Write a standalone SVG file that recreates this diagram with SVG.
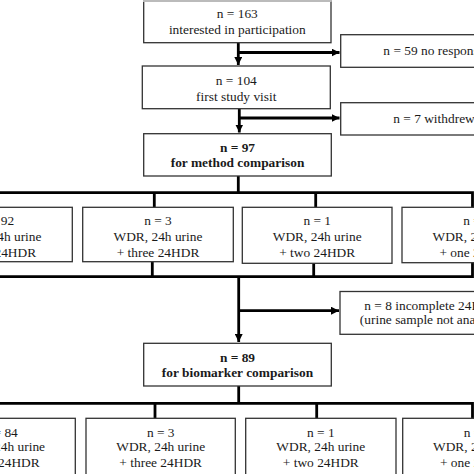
<svg xmlns="http://www.w3.org/2000/svg" width="474" height="474" viewBox="0 0 474 474">
<defs>
<style>
.box{fill:#fff;stroke:#333;stroke-width:1.3}
.t{font-family:'Liberation Serif',serif;font-size:13.4px;fill:#1a1a1a;text-anchor:middle}
.b{font-weight:bold}
.c{fill:none;stroke:#000;stroke-width:2.8}
</style>
<marker id="ah" viewBox="0 0 10 10" refX="10" refY="5" markerWidth="8" markerHeight="8" markerUnits="userSpaceOnUse" orient="auto">
<path d="M0,0 L10,5 L0,10 z" fill="#000"/>
</marker>
</defs>
<rect width="474" height="474" fill="#fff"/>

<g id="connectors">
<path class="c" d="M238.3,43 V65" marker-end="url(#ah)"/>
<path class="c" d="M238.3,52.5 H339.5" marker-end="url(#ah)"/>
<path class="c" d="M239.3,109 V132.5" marker-end="url(#ah)"/>
<path class="c" d="M239.3,118 H339.5" marker-end="url(#ah)"/>
<path class="c" d="M238.3,176 V192.7"/>
<path class="c" d="M0,192.7 H472.5 V276.7 H0"/>
<path class="c" d="M154.3,192.7 V207.3 M315.7,192.7 V207.3"/>
<path class="c" d="M152.3,262 V276.7 M313.7,263 V276.7"/>
<path class="c" d="M238.7,276.7 V342" marker-end="url(#ah)"/>
<path class="c" d="M238.7,310.7 H339" marker-end="url(#ah)"/>
<path class="c" d="M238.7,386 V403.3"/>
<path class="c" d="M0,403.3 H472.5 V476"/>
<path class="c" d="M155,403.3 V418.3 M316.7,403.3 V418.3"/>
</g>

<g id="n163">
<rect class="box" x="143.7" y="1" width="187.3" height="41.7"/>
<rect x="143" y="0" width="188.7" height="2" fill="#bbb"/>
<text class="t" x="237.3" y="18.3">n = 163</text>
<text class="t" x="237.3" y="34.3">interested in participation</text>
</g>

<g id="n59">
<rect class="box" x="340.7" y="34.7" width="187" height="32.6"/>
<text class="t" x="434" y="54.5">n = 59 no response</text>
</g>

<g id="n104">
<rect class="box" x="142.3" y="66" width="188" height="42.7"/>
<text class="t" x="236.3" y="85">n = 104</text>
<text class="t" x="236.3" y="100.8">first study visit</text>
</g>

<g id="n7">
<rect class="box" x="340.7" y="102.7" width="187" height="32.3"/>
<text class="t" x="434" y="122.7">n = 7 withdrew</text>
</g>

<g id="n97">
<rect class="box" x="143.7" y="133.7" width="187.6" height="42.3"/>
<text class="t b" x="237.5" y="151.7">n = 97</text>
<text class="t b" x="237.5" y="167.3">for method comparison</text>
</g>

<g id="m92">
<rect class="box" x="-78.3" y="207.3" width="150.6" height="54.4"/>
<text class="t" x="-3" y="225">n = 92</text>
<text class="t" x="-3" y="241">WDR, 24h urine</text>
<text class="t" x="-3" y="256.7">+ four 24HDR</text>
</g>

<g id="m3">
<rect class="box" x="82.7" y="207.3" width="150.6" height="54.4"/>
<text class="t" x="158" y="225">n = 3</text>
<text class="t" x="158" y="241">WDR, 24h urine</text>
<text class="t" x="158" y="256.7">+ three 24HDR</text>
</g>

<g id="m1a">
<rect class="box" x="242.3" y="207.3" width="149.7" height="56"/>
<text class="t" x="317.2" y="225">n = 1</text>
<text class="t" x="317.2" y="241">WDR, 24h urine</text>
<text class="t" x="317.2" y="256.7">+ two 24HDR</text>
</g>

<g id="m1b">
<rect class="box" x="402" y="207.3" width="150" height="55.4"/>
<text class="t" x="477" y="225">n = 1</text>
<text class="t" x="477" y="241">WDR, 24h urine</text>
<text class="t" x="477" y="256.7">+ one 24HDR</text>
</g>

<g id="n8">
<rect class="box" x="340" y="291.5" width="187" height="42.8"/>
<text class="t" x="432" y="310.3">n = 8 incomplete 24HDR</text>
<text class="t" x="434" y="324">(urine sample not analysed)</text>
</g>

<g id="n89">
<rect class="box" x="143.7" y="343.3" width="187.6" height="42.7"/>
<text class="t b" x="237.5" y="361.7">n = 89</text>
<text class="t b" x="237.5" y="376.7">for biomarker comparison</text>
</g>

<g id="b84">
<rect class="box" x="-74" y="418.3" width="149.3" height="58"/>
<text class="t" x="0.6" y="436.7">n = 84</text>
<text class="t" x="0.6" y="451">WDR, 24h urine</text>
<text class="t" x="0.6" y="466.7">+ four 24HDR</text>
</g>

<g id="b3">
<rect class="box" x="86" y="418.3" width="149.3" height="58"/>
<text class="t" x="160.7" y="436.7">n = 3</text>
<text class="t" x="160.7" y="451">WDR, 24h urine</text>
<text class="t" x="160.7" y="466.7">+ three 24HDR</text>
</g>

<g id="b1a">
<rect class="box" x="245.7" y="418.3" width="150.3" height="58"/>
<text class="t" x="320.8" y="436.7">n = 1</text>
<text class="t" x="320.8" y="451">WDR, 24h urine</text>
<text class="t" x="320.8" y="466.7">+ two 24HDR</text>
</g>

<g id="b1b">
<rect class="box" x="402.7" y="418.3" width="150" height="58"/>
<text class="t" x="477.5" y="436.7">n = 1</text>
<text class="t" x="477.5" y="451">WDR, 24h urine</text>
<text class="t" x="477.5" y="466.7">+ one 24HDR</text>
</g>
</svg>
